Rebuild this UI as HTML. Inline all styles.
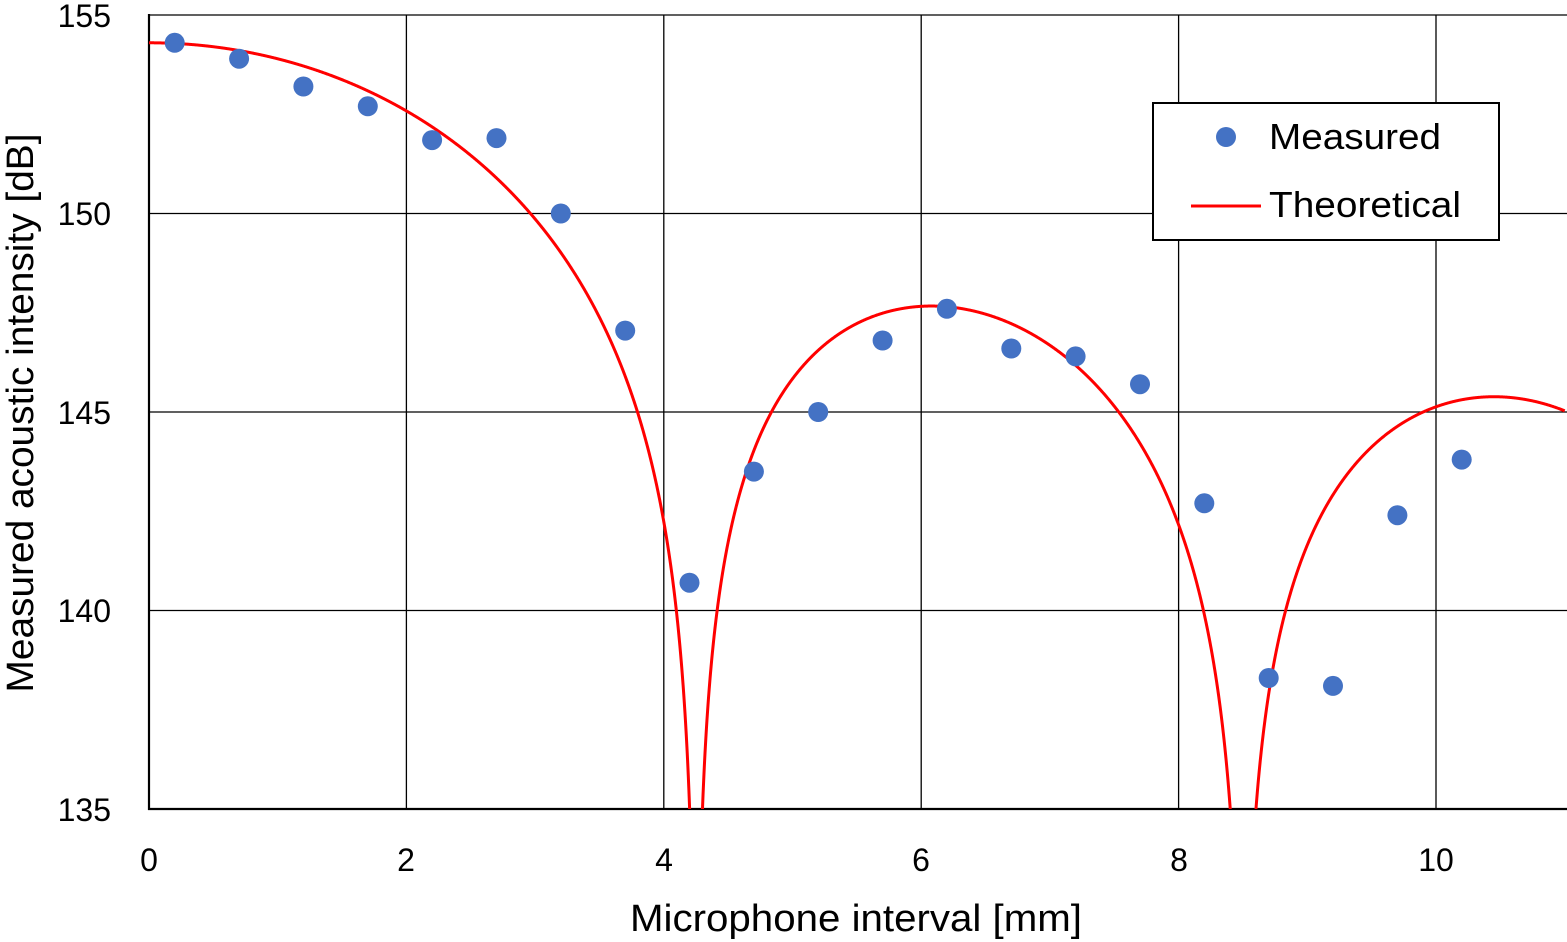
<!DOCTYPE html>
<html><head><meta charset="utf-8"><style>
html,body{margin:0;padding:0;background:#fff}
svg{display:block}
text{font-family:"Liberation Sans",sans-serif;fill:#000}
</style></head><body>
<svg id="s" width="1567" height="942" viewBox="0 0 1567 942" xmlns="http://www.w3.org/2000/svg">
<defs><clipPath id="c"><rect x="149" y="15" width="1418" height="794"/></clipPath></defs>
<g stroke="#000" stroke-width="1.3">
<line x1="149" y1="15" x2="1567" y2="15"/>
<line x1="149" y1="213.5" x2="1567" y2="213.5"/>
<line x1="149" y1="412" x2="1567" y2="412"/>
<line x1="149" y1="610.5" x2="1567" y2="610.5"/>
<line x1="406.4" y1="15" x2="406.4" y2="809"/>
<line x1="663.8" y1="15" x2="663.8" y2="809"/>
<line x1="921.2" y1="15" x2="921.2" y2="809"/>
<line x1="1178.6" y1="15" x2="1178.6" y2="809"/>
<line x1="1436" y1="15" x2="1436" y2="809"/>
</g>
<g stroke="#000" stroke-width="2.2">
<line x1="149" y1="14" x2="149" y2="810"/>
<line x1="148" y1="809" x2="1567" y2="809"/>
</g>
<path id="curve" clip-path="url(#c)" fill="none" stroke="#f00" stroke-width="3"/>
<g id="pts" fill="#4472c4"></g>
<g font-size="32" text-anchor="end">
<text x="111" y="27">155</text><text x="111" y="225">150</text><text x="111" y="424">145</text>
<text x="111" y="622">140</text><text x="111" y="821">135</text>
</g>
<g font-size="32" text-anchor="middle">
<text x="149" y="871">0</text><text x="406" y="871">2</text><text x="664" y="871">4</text>
<text x="921" y="871">6</text><text x="1179" y="871">8</text><text x="1436" y="871">10</text>
</g>
<text x="856" y="931" font-size="38" text-anchor="middle" textLength="452" lengthAdjust="spacingAndGlyphs">Microphone interval [mm]</text>
<text transform="translate(33,413) rotate(-90)" font-size="38" text-anchor="middle" textLength="559" lengthAdjust="spacingAndGlyphs">Measured acoustic intensity [dB]</text>
<rect x="1153" y="103" width="346" height="137" fill="#fff" stroke="#000" stroke-width="2"/>
<circle cx="1226" cy="137" r="10" fill="#4472c4"/>
<line x1="1191" y1="206" x2="1261" y2="206" stroke="#f00" stroke-width="3"/>
<text x="1269" y="149" font-size="36" textLength="172" lengthAdjust="spacingAndGlyphs">Measured</text>
<text x="1269" y="217" font-size="36" textLength="192" lengthAdjust="spacingAndGlyphs">Theoretical</text>
</svg>
<script>
var X=function(x){return 149+x*128.7}, Y=function(v){return 15+(155-v)*39.7};
var d="",first=true;
for(var i=0;i<=4400;i++){var x=i*0.0025;var u=Math.PI*x/4.25;var s=u<1e-9?1:Math.abs(Math.sin(u)/u);
var v=154.3+10*Math.log10(Math.max(s,1e-9));var py=Math.min(Y(v),830);
d+=(first?"M":"L")+X(x).toFixed(2)+" "+py.toFixed(2);first=false;}
document.getElementById("curve").setAttribute("d",d);
var P=[[0.2,154.3],[0.7,153.9],[1.2,153.2],[1.7,152.7],[2.2,151.85],[2.7,151.9],[3.2,150],[3.7,147.05],[4.2,140.7],[4.7,143.5],[5.2,145],[5.7,146.8],[6.2,147.6],[6.7,146.6],[7.2,146.4],[7.7,145.7],[8.2,142.7],[8.7,138.3],[9.2,138.1],[9.7,142.4],[10.2,143.8]];
var g=document.getElementById("pts"),h="";
P.forEach(function(p){h+='<circle cx="'+X(p[0]).toFixed(1)+'" cy="'+Y(p[1]).toFixed(1)+'" r="10"/>';});
g.innerHTML=h;
</script>
</body></html>
